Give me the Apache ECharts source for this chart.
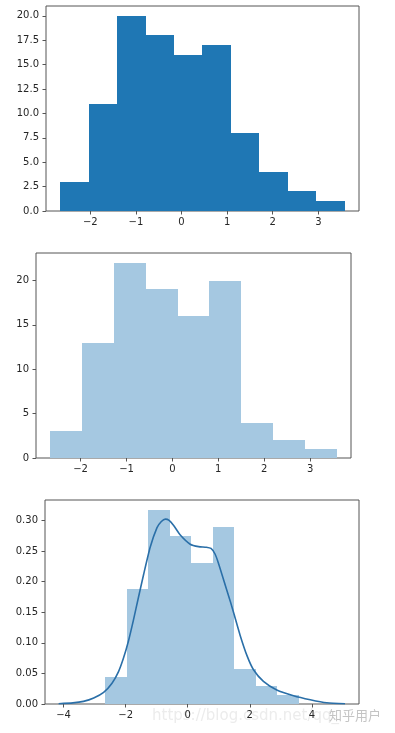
<!DOCTYPE html>
<html>
<head>
<meta charset="utf-8">
<style>
html,body{margin:0;padding:0;background:#fff;}
#chart{width:395px;height:733px;}
</style>
<script src="https://cdn.jsdelivr.net/npm/echarts@6/dist/echarts.min.js"></script>
</head>
<body>
<div id="chart"></div>
<script>
// ---- data ----
const edges10 = [-2.66, -2.036, -1.412, -0.788, -0.164, 0.46, 1.084, 1.708, 2.332, 2.956, 3.58];
const counts10 = [3, 11, 20, 18, 16, 17, 8, 4, 2, 1];
const edges9 = [-2.66, -1.967, -1.273, -0.58, 0.113, 0.807, 1.5, 2.193, 2.887, 3.58];
const counts9 = [3, 13, 22, 19, 16, 20, 4, 2, 1];
const density9 = [0.0433, 0.1875, 0.3173, 0.2740, 0.2308, 0.2885, 0.0577, 0.0288, 0.0144];
const kdeX = [-4.16, -3.7, -3.36, -3.03, -2.71, -2.44, -2.23, -2.07, -1.91, -1.75, -1.58, -1.42, -1.21, -0.99, -0.85, -0.72, -0.6, -0.46, -0.24, 0.08, 0.35, 0.6, 0.75, 0.88, 0.99, 1.21, 1.37, 1.48, 1.69, 1.91, 2.12, 2.44, 2.87, 3.41, 3.95, 4.48, 5.07];
const kdeY = [0.0005, 0.0018, 0.0043, 0.0098, 0.019, 0.034, 0.053, 0.075, 0.103, 0.137, 0.176, 0.212, 0.256, 0.288, 0.298, 0.302, 0.300, 0.292, 0.276, 0.261, 0.257, 0.256, 0.254, 0.245, 0.230, 0.194, 0.168, 0.149, 0.112, 0.079, 0.056, 0.037, 0.023, 0.0136, 0.007, 0.002, 0.0003];
const xTicks1 = [-2, -1, 0, 1, 2, 3];
const yTicks1 = [0, 2.5, 5, 7.5, 10, 12.5, 15, 17.5, 20];
const xTicks2 = [-2, -1, 0, 1, 2, 3];
const yTicks2 = [0, 5, 10, 15, 20];
const xTicks3 = [-4, -2, 0, 2, 4];
const yTicks3 = [0, 0.05, 0.10, 0.15, 0.20, 0.25, 0.30];

function histData(edges, vals){
  return vals.map((v,i)=>[edges[i], edges[i+1], v]);
}
const FRAME = '#555';
const TXT = '#262626';
const FONT = 'DejaVu Sans';
function minus(s){ return String(s).replace('-', '\u2212'); }

function xAxis(idx, min, max, ticks){
  return {
    type:'value', gridIndex: idx, min, max,
    axisLine:{show:false, onZero:false},
    splitLine:{show:false},
    axisTick:{show:true, customValues: ticks, length:3.5, inside:false, lineStyle:{color:FRAME, width:1}},
    axisLabel:{customValues: ticks, margin:6, color:TXT, fontSize:10, fontFamily:FONT,
      formatter: v => minus(Math.round(v))}
  };
}
function yAxis(idx, min, max, ticks, dec){
  return {
    type:'value', gridIndex: idx, min, max,
    axisLine:{show:false, onZero:false},
    splitLine:{show:false},
    axisTick:{show:true, customValues: ticks, length:3.5, inside:false, lineStyle:{color:FRAME, width:1}},
    axisLabel:{customValues: ticks, margin:7, color:TXT, fontSize:10, fontFamily:FONT,
      formatter: v => dec === 0 ? String(Math.round(v)) : Number(v).toFixed(dec)}
  };
}
function histSeries(idx, data, color){
  return {
    type:'custom', xAxisIndex: idx, yAxisIndex: idx,
    data,
    encode:{x:[0,1], y:2},
    renderItem:(params, api)=>{
      const p0 = api.coord([api.value(0), api.value(2)]);
      const p1 = api.coord([api.value(1), 0]);
      const x0 = Math.round(p0[0]), x1 = Math.round(p1[0]);
      const y0 = Math.round(p0[1]), y1 = Math.round(p1[1]);
      return {type:'rect', shape:{x:x0, y:y0, width:x1-x0, height:y1-y0},
        style:{fill:color}};
    },
    silent:true, animation:false
  };
}

const chart = echarts.init(document.getElementById('chart'), null, {renderer:'canvas'});
chart.setOption({
  animation:false,
  backgroundColor:'#fff',
  grid:[
    {left:46, top:6, width:313, height:205, show:true, borderColor:FRAME, borderWidth:1, backgroundColor:'transparent'},
    {left:36, top:253, width:315, height:205, show:true, borderColor:FRAME, borderWidth:1, backgroundColor:'transparent'},
    {left:45, top:500, width:314, height:204, show:true, borderColor:FRAME, borderWidth:1, backgroundColor:'transparent'}
  ],
  xAxis:[
    xAxis(0, -2.972, 3.892, xTicks1),
    xAxis(1, -2.972, 3.892, xTicks2),
    xAxis(2, -4.6, 5.52, xTicks3)
  ],
  yAxis:[
    yAxis(0, 0, 21, yTicks1, 1),
    yAxis(1, 0, 23.1, yTicks2, 0),
    yAxis(2, 0, 0.3332, yTicks3, 2)
  ],
  series:[
    histSeries(0, histData(edges10, counts10), '#1f77b4'),
    histSeries(1, histData(edges9, counts9), '#a5c8e1'),
    histSeries(2, histData(edges9, density9), '#a5c8e1'),
    {type:'line', xAxisIndex:2, yAxisIndex:2, data: kdeX.map((x,i)=>[x, kdeY[i]]),
      showSymbol:false, smooth:0.2, lineStyle:{color:'#2a6fa8', width:1.6}, silent:true}
  ],
  graphic:[
    {type:'text', left:152, top:709, silent:true,
      style:{text:'https://blog.csdn.net/qq_', fill:'#ececec', font:'15px "DejaVu Sans"'}},
    {type:'text', left:329, top:709, silent:true,
      style:{text:'知乎用户', fill:'#c4c4c4', font:'13px "Noto Sans CJK SC"'}}
  ]
});
</script>
</body>
</html>
